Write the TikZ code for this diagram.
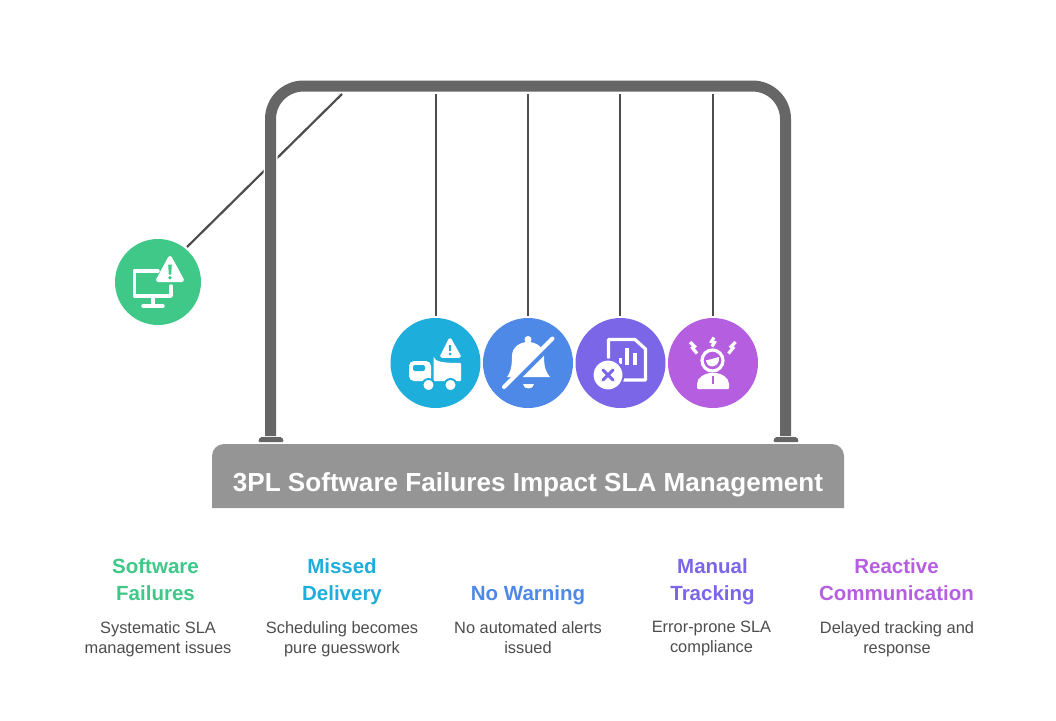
\documentclass[tikz,border=0pt]{standalone}
\usepackage{fontspec}
\setmainfont{Liberation Sans}
\usepackage{tikz}
\usetikzlibrary{positioning}
\definecolor{cgreen}{HTML}{3FC887}
\definecolor{ccyan}{HTML}{1EAEDB}
\definecolor{cblue}{HTML}{4E89E8}
\definecolor{cviolet}{HTML}{7B66E8}
\definecolor{cpurple}{HTML}{B65EE0}
\definecolor{cframe}{HTML}{666666}
\definecolor{cbase}{HTML}{959595}
\definecolor{ctext}{HTML}{4D4D4D}
\tikzset{
  ball/.style={circle, fill=#1, minimum size=90pt, inner sep=0pt},
  cord/.style={draw=ctext, line width=2.2pt},
  heading/.style={text=#1, align=center, anchor=north, inner sep=0pt, font=\fontsize{20.5}{27}\selectfont\bfseries,
    execute at begin node=\strut, execute at end node=\strut},
  caption/.style={text=ctext, align=center, anchor=north, inner sep=0pt, font=\fontsize{16.4}{20}\selectfont,
    execute at begin node=\strut, execute at end node=\strut},
  icon/.style={draw=white, line width=3.5pt, line join=round, line cap=round},
  bolt/.style={draw=white, line width=3.2pt, line join=miter},
}
\begin{document}
\begin{tikzpicture}[x=1pt,y=-1pt]
  \useasboundingbox[fill=white] (0,0) rectangle (1056,720);

  \coordinate (top1) at (342,94);
  \coordinate (top2) at (436,94);
  \coordinate (top3) at (528,94);
  \coordinate (top4) at (620,94);
  \coordinate (top5) at (713,94);
  \coordinate (end1) at (187,247);

  \node[ball=cgreen, minimum size=86pt] (failures) at (158,282) {};
  \node[ball=ccyan] (delivery) at (435.5,363) {};
  \node[ball=cblue] (warning) at (528,363) {};
  \node[ball=cviolet] (tracking) at (620.5,363) {};
  \node[ball=cpurple] (response) at (713,363) {};

  \draw[cord] (top1) -- (end1);
  \draw[cord, shorten >=2pt] (top2) -- (top2 |- delivery.north);
  \draw[cord, shorten >=2pt] (top3) -- (warning);
  \draw[cord, shorten >=2pt] (top4) -- (top4 |- tracking.north);
  \draw[cord, shorten >=2pt] (top5) -- (response);

  % frame
  \draw[white, line width=14pt, rounded corners=33pt] (270.5,436) -- (270.5,86) -- (785.5,86) -- (785.5,436);
  \draw[cframe, line width=11pt, rounded corners=33pt] (270.5,436) -- (270.5,86) -- (785.5,86) -- (785.5,436);
  \fill[cframe, rounded corners=1.5pt] (258,442) -- (260,437) -- (282,437) -- (284,442) -- cycle;
  \fill[cframe, rounded corners=1.5pt] (773,442) -- (775,437) -- (797,437) -- (799,442) -- cycle;
  \fill[cbase] (212,508) [rounded corners=12pt] -- (212,444) -- (844,444) [sharp corners] -- (844,508) -- cycle;
  \node[text=white, font=\fontsize{26.1}{30}\selectfont\bfseries] (title) at (528,485) {3PL Software Failures Impact SLA Management};

  % monitor with warning sign
  \draw[icon] (171,286) -- (171,296) -- (134.5,296) -- (134.5,271) -- (158,271);
  \draw[icon] (153,296) -- (153,305);
  \draw[icon] (143,306) -- (163,306);
  \fill[white, draw=white, line width=4pt, line join=round] (170,258) -- (158,280) -- (182,280) -- cycle;
  \fill[cgreen] (168.2,264.5) -- (171.8,264.5) -- (171.2,274.5) -- (168.8,274.5) -- cycle;
  \fill[cgreen] (170,277.7) circle (1.9pt);

  % truck with warning sign
  \fill[white, rounded corners=1pt] (433.5,356) .. controls (435,361) and (440,363) .. (461,363) -- (461,381) -- (433.5,381) -- cycle;
  \fill[white, rounded corners=5pt] (409,381) -- (409,361) -- (431,361) -- (431,381) -- cycle;
  \fill[white] (425,372) rectangle (431,381);
  \fill[ccyan, rounded corners=2pt] (413,371) -- (413,365) -- (425,365) -- (425,371) -- cycle;
  \fill[white, draw=ccyan, line width=2pt] (428.5,385) circle (6pt);
  \fill[white, draw=ccyan, line width=2pt] (450.5,385) circle (6pt);
  \fill[white, draw=white, line width=3.5pt, line join=round] (450,340) -- (442,356) -- (459,356) -- cycle;
  \fill[ccyan] (448.8,345) -- (451.2,345) -- (450.8,351) -- (449.2,351) -- cycle;
  \fill[ccyan] (450,354) circle (1.5pt);

  % bell with slash
  \fill[white] (528,339.5) circle (3.5pt);
  \fill[white] (507,377) .. controls (512,370) and (512,362) .. (512,356) .. controls (512,347) and (520,342) .. (528,342) .. controls (536,342) and (544,347) .. (544,356) .. controls (544,362) and (544,370) .. (550,377) -- cycle;
  \fill[white] (523,383.5) -- (534,383.5) .. controls (534,390) and (523,390) .. (523,383.5) -- cycle;
  \draw[cblue, line width=4.5pt] (506,390.5) -- (556,340.5);
  \draw[icon, line width=4pt] (504,387) -- (552.5,338.5);

  % document with cross
  \draw[icon, line width=3.2pt] (608.5,358) -- (608.5,339.5) -- (635,339.5) -- (645.5,349) -- (645.5,380) -- (623,380);
  \draw[icon, line width=3.2pt, line cap=butt] (627,348) -- (627,365);
  \draw[icon, line width=3.2pt, line cap=butt] (635,353) -- (635,365);
  \draw[icon, line width=3.2pt, line cap=butt] (620.5,358) -- (620.5,364);
  \fill[white, draw=cviolet, line width=2pt] (608,375) circle (15.5pt);
  \draw[cviolet, line width=3pt, line cap=round] (603,370) -- (613,380);
  \draw[cviolet, line width=3pt, line cap=round] (613,370) -- (603,380);

  % person with bolts
  \draw[white, line width=3.2pt] (712.5,360.5) circle (10.5pt);
  \fill[white, rounded corners=.5pt] (706,360.5) -- (719,357) .. controls (720,367) and (708,370) .. (706,360.5) -- cycle;
  \fill[white, rounded corners=1pt] (697,389) -- (697,385) .. controls (697,378) and (704,373) .. (713,373) .. controls (722,373) and (729,378) .. (729,385) -- (729,389) -- cycle;
  \draw[cpurple, line width=2.5pt] (713,375.5) -- (713,384);
  \draw[bolt] (714,337.5) -- (711.5,341.5) -- (714.5,342.5) -- (712,346.5);
  \draw[bolt] (690,342) -- (694.5,346.5) -- (692.5,348) -- (697,353.5);
  \draw[bolt] (735.5,342) -- (731,346.5) -- (733,348) -- (728.5,353.5);

  % labels
  \node[heading=cgreen] (h1) at (155.5,558) {Software\\Failures};
  \node[heading=ccyan] (h2) at (342,558) {Missed\\Delivery};
  \node[heading=cblue] (h3) at (528,581) {No Warning};
  \node[heading=cviolet] (h4) at (712.5,558) {Manual\\Tracking};
  \node[heading=cpurple] (h5) at (896.5,558) {Reactive\\Communication};

  \node[caption] (c1) at (158,621) {Systematic SLA\\management issues};
  \node[caption] (c2) at (342,621) {Scheduling becomes\\pure guesswork};
  \node[caption] (c3) at (528,621) {No automated alerts\\issued};
  \node[caption] (c4) at (711.5,621) {Error-prone SLA\\compliance};
  \node[caption] (c5) at (897,621) {Delayed tracking and\\response};
\end{tikzpicture}
\end{document}
